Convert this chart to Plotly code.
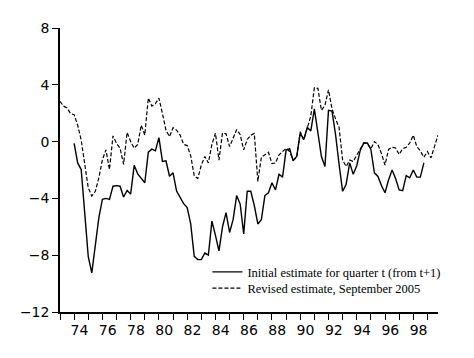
import plotly.graph_objects as go

# Quarterly data
revised_start = 1973.0   # 1973Q1
initial_start = 1974.0   # 1974Q1

revised = [
    2.84, 2.5, 2.37, 1.97,      # 1973
    1.9, 1.16, 0.1, -1.6,       # 1974
    -3.25, -3.83, -3.5, -2.55,  # 1975
    -1.28, -0.58, -1.97, 0.4,   # 1976
    -0.12, -0.46, -1.6, 0.65,   # 1977
    0.0, -0.46, -0.2, 1.16,     # 1978
    0.46, 3.07, 2.5, 2.67,      # 1979
    3.07, 1.97, 0.81, 0.35,     # 1980
    0.98, 0.81, 0.46, -0.19,    # 1981
    -0.28, -1.0, -2.4, -2.6,    # 1982
    -1.65, -1.05, -1.5, -0.2,   # 1983
    0.6, -1.3, 0.6, 0.55,       # 1984
    -0.35, 0.23, 0.85, 0.5,     # 1985
    -0.58, 0.15, 0.45, 0.58,    # 1986
    -2.8, -1.1, -0.9, -0.75,    # 1987
    -1.55, -1.5, -0.93, -0.7,   # 1988
    -0.47, -0.7, -1.3, -1.1,    # 1989
    0.7, 0.12, 1.05, 1.8,       # 1990
    3.8, 3.75, 2.2, 2.55,       # 1991
    3.65, 2.3, 1.6, 1.0,        # 1992
    -1.3, -1.75, -1.3, -1.4,    # 1993
    -0.95, -0.5, -0.1, -0.15,   # 1994
    -0.5, 0.0, -0.2, -0.85,     # 1995
    -1.65, -0.55, -0.4, -0.45,  # 1996
    -0.9, -0.5, -0.4, -0.1,     # 1997
    0.45, -0.35, -0.65, -1.1,   # 1998
    -0.7, -1.15, -0.35, 0.45,   # 1999
]

initial = [
    -0.12, -1.5, -1.97, -5.1,   # 1974
    -8.1, -9.25, -7.2, -5.35,   # 1975
    -4.07, -4.0, -4.07, -3.14,  # 1976
    -3.1, -3.14, -3.9, -3.44,   # 1977
    -3.7, -1.67, -2.28, -2.62,  # 1978
    -2.9, -0.74, -0.53, -0.65,  # 1979
    0.28, -1.39, -1.35, -2.44,  # 1980
    -2.2, -3.48, -3.95, -4.37,  # 1981
    -4.65, -5.8, -8.08, -8.31,  # 1982
    -8.31, -7.85, -8.0, -5.6,   # 1983
    -6.6, -7.7, -6.0, -5.0,     # 1984
    -6.4, -5.5, -3.8, -4.4,     # 1985
    -6.5, -3.5, -3.5, -4.5,     # 1986
    -5.8, -5.5, -3.8, -3.6,     # 1987
    -2.9, -3.4, -2.3, -2.5,     # 1988
    -0.6, -0.5, -1.35, -1.05,   # 1989
    0.6, 0.15, 1.0, 0.75,       # 1990
    2.3, 0.5, -1.05, -1.75,     # 1991
    2.2, 2.15, 0.5, -1.6,       # 1992
    -3.5, -3.0, -1.5, -2.3,     # 1993
    -1.7, -0.6, -0.1, -0.1,     # 1994
    -0.55, -2.2, -2.45, -3.1,   # 1995
    -3.6, -2.7, -2.0, -2.6,     # 1996
    -3.4, -3.45, -2.4, -2.55,   # 1997
    -2.0, -2.5, -2.5, -1.5,     # 1998
]

year_ticks = list(range(1973, 2000))
label_years = list(range(1974, 1999, 2))
label_text = [str(y)[2:] for y in label_years]
y_ticks = [-12, -8, -4, 0, 4, 8]

x_rev = [revised_start + i / 4 for i in range(len(revised))]
x_ini = [initial_start + i / 4 for i in range(len(initial))]

fig = go.Figure()
fig.add_trace(go.Scatter(
    x=x_ini, y=initial, mode="lines",
    name="Initial estimate for quarter t (from t+1)",
    line=dict(color="black", width=1.4),
    legend="legend",
))
fig.add_trace(go.Scatter(
    x=x_rev, y=revised, mode="lines",
    name="Revised estimate, September 2005",
    line=dict(color="black", width=1.2, dash="4px,2px"),
    legend="legend2",
))
# invisible trace to activate label axis
fig.add_trace(go.Scatter(x=[1973, 1999.75], y=[None, None], xaxis="x2",
                         showlegend=False, hoverinfo="skip"))

X0, X1 = 1973.0, 1999.75
tickfont = dict(family="DejaVu Sans, sans-serif", size=14, color="black")
legfont = dict(family="Liberation Serif, Times New Roman, serif", size=12.5, color="black")

fig.update_layout(
    width=474, height=358,
    margin=dict(l=45, r=44, t=17, b=54),
    plot_bgcolor="white", paper_bgcolor="white",
    xaxis=dict(
        range=[X0, X1], tickmode="array", tickvals=year_ticks,
        showticklabels=False, ticks="outside", ticklen=6, tickwidth=1.2,
        tickcolor="black", showline=True, linecolor="black", linewidth=1.5,
        showgrid=False, zeroline=False,
    ),
    xaxis2=dict(
        range=[X0, X1], overlaying="x", anchor="y", side="bottom",
        tickmode="array", tickvals=[y + 0.375 for y in label_years],
        ticktext=label_text, ticks="outside", ticklen=5,
        tickcolor="rgba(0,0,0,0)", showline=False, showgrid=False,
        zeroline=False, tickfont=tickfont,
    ),
    yaxis=dict(
        range=[-12, 8], tickmode="array", tickvals=y_ticks,
        ticks="outside", ticklen=6, tickwidth=1.2, tickcolor="black",
        showline=True, linecolor="black", linewidth=1.5,
        showgrid=False, zeroline=False, tickfont=tickfont,
    ),
    legend=dict(
        x=0.39, y=0.14, xanchor="left", yanchor="middle",
        bgcolor="rgba(0,0,0,0)", font=legfont, itemwidth=30,
    ),
    legend2=dict(
        x=0.39, y=0.083, xanchor="left", yanchor="middle",
        bgcolor="rgba(0,0,0,0)", font=legfont, itemwidth=30,
    ),
    showlegend=True,
)

fig.write_html("out.html")
